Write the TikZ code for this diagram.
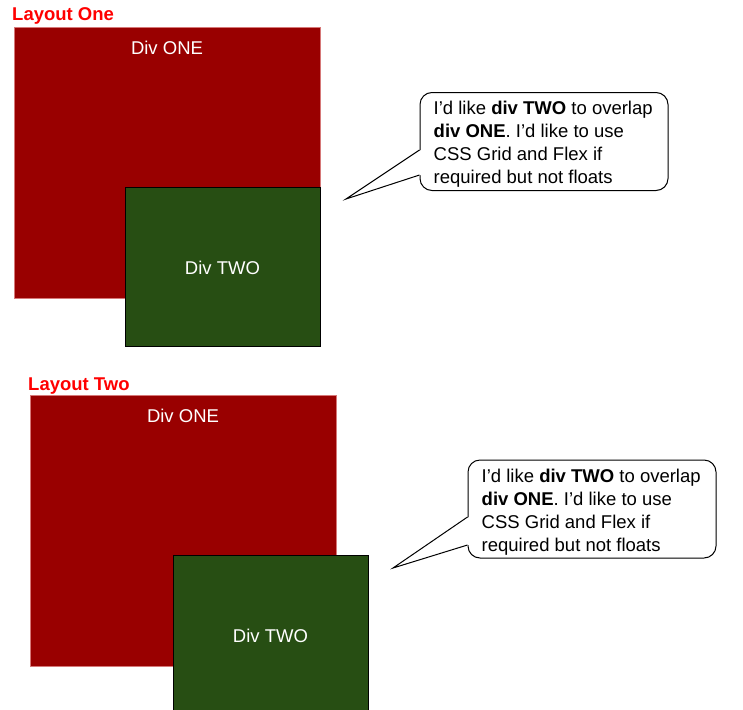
\documentclass[tikz,border=0pt]{standalone}
\usepackage{fontspec}
\setmainfont{Liberation Sans}
\usepackage{tikz}
\usetikzlibrary{calc}

\definecolor{divred}{RGB}{153,0,0}
\definecolor{divredline}{RGB}{214,120,120}
\definecolor{divgreen}{RGB}{39,78,19}
\definecolor{titlered}{RGB}{255,0,0}

\tikzset{
	divone/.style={fill=divred, draw=divredline, line width=0.8pt},
	divtwo/.style={fill=divgreen, draw=black, line width=1pt},
	divtext/.style={text=white, font=\fontsize{18.5}{23}\selectfont, anchor=base, inner sep=0pt},
	layouttitle/.style={text=titlered, font=\fontsize{18.5}{23}\selectfont\bfseries, anchor=base west, inner sep=0pt},
	notebox/.style={draw=black, line width=1pt, rounded corners=12pt, fill=white,
		minimum width=248pt, minimum height=98pt, inner sep=0pt},
	notetext/.style={align=left, font=\fontsize{18.5}{23}\selectfont, anchor=base west, inner sep=0pt}
}

\begin{document}
\begin{tikzpicture}[x=1pt,y=-1pt]
				\useasboundingbox (0,0) rectangle (743,709);
				
				% Layout one
				\node[layouttitle] (titleA) at (12,21) {Layout One};
				\path[divone] (14,27) rectangle (320,298);
				\node[divtext] (oneA) at (167,55) {Div ONE};
				\path[divtwo] (125,187) rectangle (320,346);
				\node[divtext] (twoA) at (222.5,274) {Div TWO};
				
				% Note one
				\node[notebox] (noteA) at (544,141.5) {};
				\node[notetext] (textA) at ([xshift=14pt,yshift=-91.5pt]noteA.north west) {I’d like \textbf{div TWO} to overlap\\\textbf{div ONE}. I’d like to use\\CSS Grid and Flex if\\required but not floats};
				\coordinate (tipA) at (346,199);
				\coordinate (baseA1) at ([yshift=-8.5pt]noteA.west);
				\coordinate (baseA2) at ([yshift=-33.5pt]noteA.west);
				\fill[white] (tipA) -- ([xshift=1.5pt]baseA1) -- ([xshift=1.5pt]baseA2) -- cycle;
				\draw[line width=1pt] (baseA1) -- (tipA) -- (baseA2);
				
				% Layout two
				\node[layouttitle] (titleB) at (28,390) {Layout Two};
				\path[divone] (30,395) rectangle (336,666);
				\node[divtext] (oneB) at (183,422) {Div ONE};
				\path[divtwo] (173,555) rectangle (368,714);
				\node[divtext] (twoB) at (270.5,642) {Div TWO};
				
				% Note two
				\node[notebox] (noteB) at (592,509) {};
				\node[notetext] (textB) at ([xshift=14pt,yshift=-91.5pt]noteB.north west) {I’d like \textbf{div TWO} to overlap\\\textbf{div ONE}. I’d like to use\\CSS Grid and Flex if\\required but not floats};
				\coordinate (tipB) at (393,568);
				\coordinate (baseB1) at ([yshift=-8pt]noteB.west);
				\coordinate (baseB2) at ([yshift=-36pt]noteB.west);
				\fill[white] (tipB) -- ([xshift=1.5pt]baseB1) -- ([xshift=1.5pt]baseB2) -- cycle;
				\draw[line width=1pt] (baseB1) -- (tipB) -- (baseB2);
			\end{tikzpicture}
\end{document}
